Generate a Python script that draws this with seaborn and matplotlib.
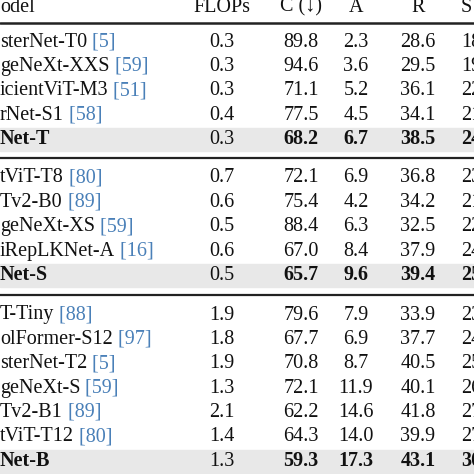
import matplotlib
matplotlib.use("Agg")
import matplotlib.pyplot as plt
import seaborn as sns

sns.set_style("white")
plt.rcParams['font.family'] = ['Liberation Serif', 'DejaVu Serif']
plt.rcParams['text.color'] = '#111111'

headers = ["odel", "FLOPs", "C (\u2193)", "A", "R", "S"]
models = ["sterNet-T0", "geNeXt-XXS", "icientViT-M3", "rNet-S1", "Net-T",
          "tViT-T8", "Tv2-B0", "geNeXt-XS", "iRepLKNet-A", "Net-S",
          "T-Tiny", "olFormer-S12", "sterNet-T2", "geNeXt-S", "Tv2-B1", "tViT-T12", "Net-B"]
cites = ["[5]", "[59]", "[51]", "[58]", "",
         "[80]", "[89]", "[59]", "[16]", "",
         "[88]", "[97]", "[5]", "[59]", "[89]", "[80]", ""]
flops = ["0.3", "0.3", "0.3", "0.4", "0.3", "0.7", "0.6", "0.5", "0.6", "0.5",
         "1.9", "1.8", "1.9", "1.3", "2.1", "1.4", "1.3"]
col_c = ["89.8", "94.6", "71.1", "77.5", "68.2", "72.1", "75.4", "88.4", "67.0", "65.7",
         "79.6", "67.7", "70.8", "72.1", "62.2", "64.3", "59.3"]
col_a = ["2.3", "3.6", "5.2", "4.5", "6.7", "6.9", "4.2", "6.3", "8.4", "9.6",
         "7.9", "6.9", "8.7", "11.9", "14.6", "14.0", "17.3"]
col_r = ["28.6", "29.5", "36.1", "34.1", "38.5", "36.8", "34.2", "32.5", "37.9", "39.4",
         "33.9", "37.7", "40.5", "40.1", "41.8", "39.9", "43.1"]
col_s = ["18.2", "19.0", "22.4", "21.5", "24.0", "23.1", "21.8", "22.0", "24.6", "25.3",
         "23.0", "24.8", "25.5", "26.1", "27.0", "27.4", "30.2"]
groups = [0, 0, 0, 0, 0, 1, 1, 1, 1, 1, 2, 2, 2, 2, 2, 2, 2]
ours = [False, False, False, False, True, False, False, False, False, True,
        False, False, False, False, False, False, True]

fig = plt.figure(figsize=(4.74, 4.74), dpi=100)
ax = fig.add_axes([0, 0, 1, 1])
ax.set_xlim(0, 474)
ax.set_ylim(474, 0)
ax.axis("off")

fs = 14.5
colx = [0, 222, 301, 356, 418, 461]
pitch = 24.35
group_start = [42, 178, 315]
cite_color = "#4a80b8"

for j, h in enumerate(headers):
    ha = "left" if j in (0, 5) else "center"
    ax.text(colx[j], 7, h, ha=ha, va="center", fontsize=fs)
ax.plot([0, 474], [23, 23], color="#222", lw=1.8)

counts = {}
for i, m in enumerate(models):
    g = groups[i]
    k = counts.get(g, 0)
    counts[g] = k + 1
    y = group_start[g] + k * pitch
    if ours[i]:
        ax.axhspan(y - 11.5, y + 12, color="#e8e8e8", zorder=0)
    w = "bold" if ours[i] else "normal"
    t = ax.text(colx[0], y, m, ha="left", va="center", fontsize=fs, fontweight=w)
    if cites[i]:
        ax.annotate(" " + cites[i], xy=(1, 0), xycoords=t, va="bottom", ha="left",
                    fontsize=fs, color=cite_color)
    ax.text(colx[1], y, flops[i], ha="center", va="center", fontsize=fs)
    for j, col in ((2, col_c), (3, col_a), (4, col_r)):
        ax.text(colx[j], y, col[i], ha="center", va="center", fontsize=fs, fontweight=w)
    ax.text(colx[5], y, col_s[i], ha="left", va="center", fontsize=fs, fontweight=w)

for yl in (158, 295):
    ax.plot([0, 474], [yl, yl], color="#222", lw=1.6)

fig.savefig("out.png", dpi=100)
